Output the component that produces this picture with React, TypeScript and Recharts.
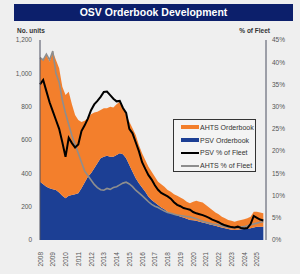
import { ComposedChart, Area, Line, XAxis, YAxis } from 'recharts';

// quarterly observations, Q1 2008 .. Q3 2025
const startYear = 2008;
const years = [2008, 2009, 2010, 2011, 2012, 2013, 2014, 2015, 2016, 2017, 2018, 2019, 2020, 2021, 2022, 2023, 2024, 2025];

const psvOrderbook = [
  350, 335, 320, 310, 305, 300, 285, 265, 250, 265, 270, 275, 280, 310, 345, 380,
  400, 430, 460, 490, 500, 505, 500, 500, 510, 520, 515, 490, 450, 410, 370, 340,
  315, 290, 260, 240, 225, 210, 195, 185, 170, 160, 155, 150, 140, 135, 128, 120,
  118, 115, 110, 105, 100, 95, 90, 85, 80, 75, 70, 66, 62, 60, 62, 64,
  66, 68, 70, 75, 80, 80, 80,
];

const ahtsOrderbook = [
  750, 745, 790, 760, 825, 780, 745, 655, 620, 625, 545, 475, 440, 398, 370, 350,
  355, 335, 310, 290, 290, 285, 300, 295, 305, 310, 285, 260, 260, 260, 260, 230,
  205, 190, 180, 170, 155, 140, 140, 135, 130, 130, 120, 115, 115, 110, 102, 100,
  112, 120, 120, 120, 110, 100, 90, 80, 75, 65, 60, 54, 53, 50, 53, 56,
  59, 62, 70, 95, 90, 85, 80,
];

const psvPctFleet = [
  35, 36, 33.5, 31, 29, 27, 25, 22, 18.7, 23, 21.8, 20.8, 21.5, 24.5, 25.8, 27.3,
  29.2, 30.5, 31.3, 32.2, 33.3, 33.4, 32.6, 31.8, 31.2, 31.3, 29.7, 28.6, 25, 24, 22, 20,
  17.5, 16, 14.6, 13.6, 12.3, 11.3, 10.6, 10.2, 9.8, 9.3, 8.5, 7.9, 7.6, 7.2, 7, 6.8,
  6.3, 6, 5.8, 5.6, 5.3, 5, 4.6, 4.3, 4, 3.6, 3.3, 3.1, 2.9, 2.8, 3, 2.7,
  2.6, 2.7, 3.6, 5.4, 5, 4.6, 4.4,
];

const ahtsPctFleet = [
  41, 40.5, 41.8, 40.5, 42.5, 37.5, 35.5, 31.5, 28.5, 26, 23.5, 21.5, 19.5, 17.5, 15.5, 14.5,
  13.5, 12.5, 11.8, 11.3, 11.2, 11.6, 11.4, 11.8, 12, 12.4, 12.8, 13, 12.6, 12, 11.2, 10.6,
  10, 9.3, 8.6, 8, 7.6, 7.3, 6.9, 6.5, 6.2, 6, 5.8, 5.6, 5.5, 5.4, 5.3, 5.2,
  5, 4.8, 4.5, 4.2, 4, 3.8, 3.6, 3.5, 3.4, 3.2, 3, 2.9, 2.8, 2.7, 2.8, 2.9,
  3, 3.2, 3.4, 3.6, 3.8, 4, 4.1,
];

const unitTicks = [0, 200, 400, 600, 800, 1000, 1200];
const pctTicks = [0, 5, 10, 15, 20, 25, 30, 35, 40, 45];

const data = psvOrderbook.map((psv, i) => ({
  t: startYear + i / 4,
  psv,
  ahts: ahtsOrderbook[i],
  psvPct: psvPctFleet[i],
  ahtsPct: ahtsPctFleet[i],
}));

const ORANGE = '#f37f2c';
const BLUE = '#1c3f94';
const GREY = '#8e8e8e';
const FONT = '"Liberation Sans", Arial, sans-serif';

const YearTick = (props: any) => {
  const { x, y, payload } = props;
  return (
    <text
      x={x}
      y={y + 4}
      transform={`rotate(-90, ${x}, ${y + 4})`}
      textAnchor="end"
      dominantBaseline="central"
      fontSize={6.5}
      fill="#555"
      fontFamily={FONT}
    >
      {payload.value}
    </text>
  );
};

const legendItems = [
  { label: 'AHTS Orderbook', color: ORANGE, h: 4 },
  { label: 'PSV Orderbook', color: BLUE, h: 4 },
  { label: 'PSV % of Fleet', color: '#000', h: 2 },
  { label: 'AHTS % of Fleet', color: GREY, h: 2 },
];

const App = () => {
  return (
    <div style={styles.page}>
      <div style={styles.title}>OSV Orderbook Development</div>
      <div style={{ ...styles.axisTitle, left: 17 }}>No. units</div>
      <div style={{ ...styles.axisTitle, right: 30 }}>% of Fleet</div>
      <ComposedChart
        width={300}
        height={274}
        data={data}
        margin={{ top: 40, right: 0, bottom: 0, left: 0 }}
        style={{ position: 'absolute', left: 0, top: 0 }}
      >
        <XAxis
          dataKey="t"
          type="number"
          domain={[2008, 2025.71]}
          ticks={years}
          tick={<YearTick />}
          tickLine={false}
          axisLine={false}
          height={34}
          interval={0}
        />
        <YAxis
          yAxisId="left"
          domain={[0, 1200]}
          ticks={unitTicks}
          width={40}
          tickLine={false}
          tickSize={6}
          axisLine={{ stroke: '#4a4f60' }}
          tick={{ fontSize: 6.5, fill: '#555', fontFamily: FONT }}
          tickFormatter={(v: number) => v.toLocaleString('en-US')}
          interval={0}
        />
        <YAxis
          yAxisId="right"
          orientation="right"
          domain={[0, 45]}
          ticks={pctTicks}
          width={34}
          tickLine={false}
          tickSize={4}
          axisLine={{ stroke: '#4a4f60' }}
          tick={{ fontSize: 6.5, fill: '#555', fontFamily: FONT, textAnchor: 'start' }}
          tickFormatter={(v: number) => `${v}%`}
          interval={0}
        />
        <Area yAxisId="left" type="linear" dataKey="psv" stackId="ob" fill={BLUE} fillOpacity={1} stroke="none" isAnimationActive={false} />
        <Area yAxisId="left" type="linear" dataKey="ahts" stackId="ob" fill={ORANGE} fillOpacity={1} stroke="none" isAnimationActive={false} />
        <Line yAxisId="right" type="linear" dataKey="ahtsPct" stroke={GREY} strokeWidth={1.6} dot={false} isAnimationActive={false} />
        <Line yAxisId="right" type="linear" dataKey="psvPct" stroke="#000" strokeWidth={2} dot={false} isAnimationActive={false} />
      </ComposedChart>
      <div style={styles.legend}>
        {legendItems.map(item => (
          <div key={item.label} style={styles.legendRow}>
            <span style={{ display: 'inline-block', width: 18, height: item.h, background: item.color, marginRight: 1 }} />
            <span>{item.label}</span>
          </div>
        ))}
      </div>
    </div>
  );
};

const styles: any = {
  page: { position: 'absolute', left: 0, top: 0, width: 300, height: 274, background: '#efefef', fontFamily: FONT, overflow: 'hidden' },
  title: {
    position: 'absolute', left: 14, top: 4, width: 279, height: 17, background: '#0c1f6b', color: '#fff',
    fontWeight: 'bold', fontSize: 10.5, lineHeight: '17px', textAlign: 'center',
  },
  axisTitle: { position: 'absolute', top: 27, fontSize: 6.5, fontWeight: 'bold', color: '#333' },
  legend: {
    position: 'absolute', left: 173, top: 119, width: 81, height: 50, border: '1px solid #333', background: '#f4f4f4',
    zIndex: 2, paddingTop: 1, boxSizing: 'content-box',
  },
  legendRow: { display: 'flex', alignItems: 'center', height: 12.8, paddingLeft: 7, fontSize: 7, color: '#333', whiteSpace: 'nowrap' },
};

export default App;
